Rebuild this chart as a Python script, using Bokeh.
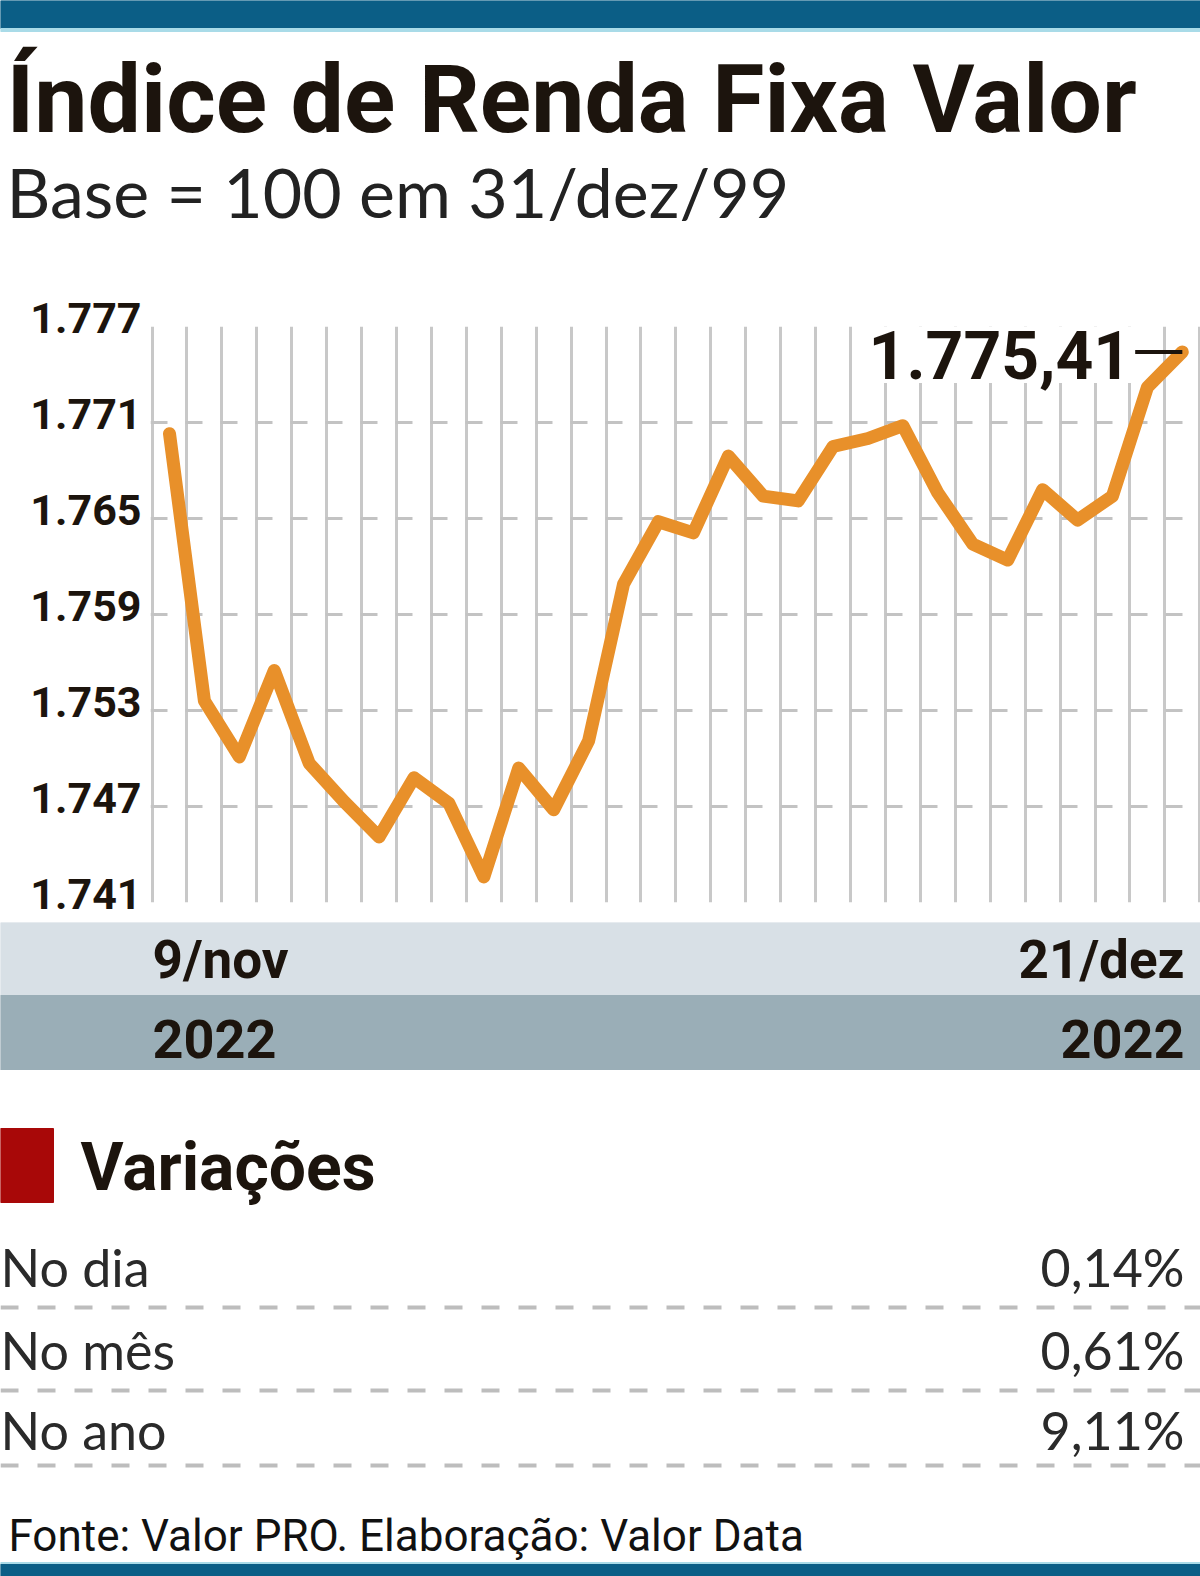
from bokeh.plotting import figure
from bokeh.models import Range1d, FixedTicker, Label
from bokeh.layouts import column, row
from bokeh.embed import file_html
from bokeh.resources import INLINE
from bokeh.core.properties import value

# ---------------- data ----------------
dates = ["9/nov", "10/nov", "11/nov", "14/nov", "16/nov", "17/nov", "18/nov",
         "21/nov", "22/nov", "23/nov", "24/nov", "25/nov", "28/nov", "29/nov",
         "30/nov", "1/dez", "2/dez", "5/dez", "6/dez", "7/dez", "8/dez",
         "9/dez", "12/dez", "13/dez", "14/dez", "15/dez", "16/dez", "19/dez",
         "20/dez", "21/dez"]
values = [1770.3, 1753.6, 1750.1, 1755.5, 1749.7, 1747.3, 1745.1, 1748.8,
          1747.2, 1742.6, 1749.4, 1746.8, 1751.1, 1760.9, 1764.8, 1764.1,
          1768.9, 1766.4, 1766.1, 1769.5, 1770.0, 1770.8, 1766.6, 1763.4,
          1762.4, 1766.8, 1764.9, 1766.4, 1773.2, 1775.41]
year_start = "2022"
year_end = "2022"
y_ticks = [1741, 1747, 1753, 1759, 1765, 1771, 1777]
y_tick_labels = ["1.741", "1.747", "1.753", "1.759", "1.765", "1.771", "1.777"]
var_labels = ["No dia", "No mês", "No ano"]
var_values = ["0,14%", "0,61%", "9,11%"]

# ---------------- styles ----------------
W = 1200
LEFT = 150
INK = "#1c140d"
BLUE = "#0b5e86"
LIGHTLINE = "#a9dbe8"
ORANGE = "#e8902a"
GRID = "#c8c8c8"
X_PAD_LEFT = 0.544     # range padding (in days) left of the first point
X_PAD_RIGHT = 0.52     # range padding right of the last point


def blank(h, w=W):
    p = figure(width=w, height=h, x_range=Range1d(0, w), y_range=Range1d(h, 0),
               output_backend="svg", toolbar_location=None, min_border=0,
               x_axis_location=None, y_axis_location=None, frame_align=False)
    p.grid.visible = False
    p.outline_line_color = None
    p.background_fill_color = "white"
    p.border_fill_color = "white"
    return p


# ---------------- header ----------------
hd = blank(290)
hd.quad(left=[0], right=[W], top=[0], bottom=[28], color=BLUE)
hd.quad(left=[0], right=[W], top=[28], bottom=[31], color=LIGHTLINE)
hd.text(x=[6], y=[99], text=["Índice de Renda Fixa Valor"],
        text_font=value("Roboto"), text_font_style="bold",
        text_font_size="95px", text_color=INK, text_baseline="alphabetic")
hd.text(x=[6], y=[191], text=["Base = 100 em 31/dez/99"],
        text_font=value("Lato"), text_font_size="68px", text_color="#222222",
        text_baseline="alphabetic")

# ---------------- chart ----------------
CH_H, TOP, BOT = 632, 36, 20
PX = (CH_H - TOP - BOT) / (y_ticks[-1] - y_ticks[0])   # pixels per index point

xs = list(range(len(values)))
ch = figure(width=W - LEFT, height=CH_H,
            x_range=Range1d(xs[0] - X_PAD_LEFT, xs[-1] + X_PAD_RIGHT),
            y_range=Range1d(y_ticks[0], y_ticks[-1]),
            min_border_left=0, min_border_right=0,
            min_border_top=TOP, min_border_bottom=BOT,
            x_axis_location=None, y_axis_location=None, output_backend="svg",
            toolbar_location=None, frame_align=False)
ch.outline_line_color = None
ch.background_fill_color = "white"
ch.border_fill_color = "white"

ch.xgrid.ticker = FixedTicker(ticks=[i - 0.5 for i in range(len(values) + 1)])
ch.xgrid.grid_line_color = GRID
ch.xgrid.grid_line_width = 3
ch.ygrid.ticker = FixedTicker(ticks=y_ticks)
ch.ygrid.grid_line_color = "#c3c3c3"
ch.ygrid.grid_line_width = 3
ch.ygrid.grid_line_dash = "17 18"

ch.line(xs, values, line_width=13, line_color=ORANGE,
        line_join="round", line_cap="round")
ch.segment(x0=[xs[-1] - 1.52], y0=[values[-1]], x1=[xs[-1]], y1=[values[-1]],
           line_color=INK, line_width=4)

last_txt = f"{values[-1]:,.2f}".replace(",", "X").replace(".", ",").replace("X", ".")
ch.add_layout(Label(x=xs[-1] - 1.35, y=values[-1], text=last_txt,
                    text_align="right", text_baseline="alphabetic",
                    y_offset=-3, text_font="Roboto", text_font_style="bold",
                    text_font_size="66px", text_color=INK,
                    background_fill_color="white", padding=4))

# y tick labels: a narrow figure sharing the chart's vertical scale
lf = figure(width=LEFT, height=CH_H, x_range=Range1d(0, LEFT),
            y_range=Range1d(y_ticks[0] - BOT / PX, y_ticks[-1] + TOP / PX),
            output_backend="svg", toolbar_location=None, min_border=0,
            x_axis_location=None, y_axis_location=None, frame_align=False)
lf.grid.visible = False
lf.outline_line_color = None
lf.background_fill_color = "white"
lf.border_fill_color = "white"
lf.text(x=[LEFT - 9] * len(y_ticks), y=[t + 9 / PX for t in y_ticks],
        text=y_tick_labels, text_align="right", text_baseline="alphabetic",
        text_font=value("Roboto"), text_font_style="bold",
        text_font_size="43px", text_color=INK)

# ---------------- date bands ----------------
bd = blank(148)
bd.quad(left=[0], right=[W], top=[0], bottom=[73], color="#d8e0e6")
bd.quad(left=[0], right=[W], top=[73], bottom=[148], color="#9aaeb7")
common = dict(text_font=value("Roboto"), text_font_style="bold",
              text_color=INK, text_baseline="alphabetic")
bd.text(x=[152], y=[37], text=[dates[0]], text_font_size="53px", **common)
bd.text(x=[1184], y=[37], text=[dates[-1]], text_font_size="53px",
        text_align="right", **common)
bd.text(x=[152], y=[116], text=[year_start], text_font_size="54px", **common)
bd.text(x=[1184], y=[116], text=[year_end], text_font_size="54px",
        text_align="right", **common)

# ---------------- variations table ----------------
tb = blank(506)
tb.quad(left=[0], right=[53], top=[58], bottom=[132], color="#a80808")
tb.text(x=[80], y=[97], text=["Variações"], text_font=value("Roboto"),
        text_font_style="bold", text_font_size="66px", text_color=INK,
        text_baseline="alphabetic")
row_y = [196, 279, 359]
sep_y = [237, 320, 395]
tb.text(x=[0] * len(var_labels), y=row_y, text=var_labels,
        text_font=value("Lato"), text_font_size="52px", text_color="#2a2a2a",
        text_baseline="alphabetic")
tb.text(x=[1184] * len(var_values), y=row_y, text=var_values,
        text_font=value("Lato"), text_font_size="52px", text_color="#2a2a2a",
        text_baseline="alphabetic", text_align="right")
tb.segment(x0=[0] * 3, y0=sep_y, x1=[W] * 3, y1=sep_y, line_color="#bdbdbd",
           line_width=4, line_dash="18 19")
tb.text(x=[8], y=[465], text=["Fonte: Valor PRO. Elaboração: Valor Data"],
        text_font=value("Roboto"), text_font_size="44px", text_color="#111111",
        text_baseline="alphabetic")
tb.quad(left=[0], right=[W], top=[492], bottom=[494], color=LIGHTLINE)
tb.quad(left=[0], right=[W], top=[494], bottom=[506], color=BLUE)

layout = column(hd, row(lf, ch, spacing=0), bd, tb, spacing=0)
open("out.html", "w").write(file_html(layout, INLINE, title="Índice de Renda Fixa Valor"))
